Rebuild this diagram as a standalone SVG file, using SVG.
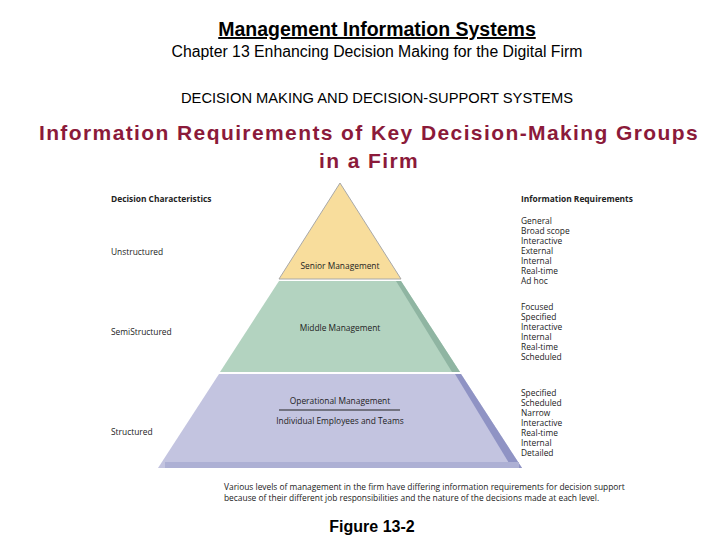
<svg xmlns="http://www.w3.org/2000/svg" width="720" height="540" viewBox="0 0 720 540">
<style>
.h{font-family:"Liberation Sans",Arial,sans-serif;fill:#000}
.s{font-family:"Open Sans","DejaVu Sans",sans-serif;font-size:8.4px;fill:#222}
.b{font-weight:bold}
.t{font-family:"Liberation Sans",Arial,sans-serif;font-size:21px;font-weight:bold;fill:#8b1a3a;letter-spacing:1.4px}
</style>
<rect width="720" height="540" fill="#fff"/>
<text class="h b" x="377" y="36" font-size="19.5" text-anchor="middle" text-decoration="underline">Management Information Systems</text>
<text class="h" x="377" y="57" font-size="15.8" text-anchor="middle">Chapter 13 Enhancing Decision Making for the Digital Firm</text>
<text class="h" x="377" y="103" font-size="14.7" text-anchor="middle">DECISION MAKING AND DECISION-SUPPORT SYSTEMS</text>
<text class="t" x="369" y="140" text-anchor="middle">Information Requirements of Key Decision-Making Groups</text>
<text class="t" x="369" y="168" text-anchor="middle">in a Firm</text>
<g id="senior">
<polygon points="340,183 279,279 401,279" fill="#f8dd9c" stroke="#a8a8a8" stroke-width="1"/>
<text class="s" x="340" y="269" text-anchor="middle">Senior Management</text>
</g>
<g id="middle">
<polygon points="279,281 401,281 460,372 220,372" fill="#b3d3c0"/>
<polygon points="396,281 401,281 460,372 452,372" fill="#8fb5a2"/>
<text class="s" x="340" y="331" text-anchor="middle">Middle Management</text>
</g>
<g id="operational">
<polygon points="219,374 461,374 522,468 158,468" fill="#c3c4e0"/>
<polygon points="455,374 461,374 522,468 512,468" fill="#8f93c4"/>
<rect x="165" y="462" width="354" height="6" fill="#adb0d4"/>
<text class="s" x="340" y="404" text-anchor="middle">Operational Management</text>
<line x1="279" y1="410" x2="400" y2="410" stroke="#222" stroke-width="1"/>
<text class="s" x="340" y="424" text-anchor="middle">Individual Employees and Teams</text>
</g>
<g id="left">
<text class="s b" x="111" y="202">Decision Characteristics</text>
<text class="s" x="111" y="255">Unstructured</text>
<text class="s" x="111" y="335">SemiStructured</text>
<text class="s" x="111" y="435">Structured</text>
</g>
<g id="right">
<text class="s b" x="521" y="202">Information Requirements</text>
<text class="s" x="521" y="224">General</text>
<text class="s" x="521" y="234">Broad scope</text>
<text class="s" x="521" y="244">Interactive</text>
<text class="s" x="521" y="254">External</text>
<text class="s" x="521" y="264">Internal</text>
<text class="s" x="521" y="274">Real-time</text>
<text class="s" x="521" y="284">Ad hoc</text>
<text class="s" x="521" y="310">Focused</text>
<text class="s" x="521" y="320">Specified</text>
<text class="s" x="521" y="330">Interactive</text>
<text class="s" x="521" y="340">Internal</text>
<text class="s" x="521" y="350">Real-time</text>
<text class="s" x="521" y="360">Scheduled</text>
<text class="s" x="521" y="396">Specified</text>
<text class="s" x="521" y="405.5">Scheduled</text>
<text class="s" x="521" y="415.5">Narrow</text>
<text class="s" x="521" y="425.5">Interactive</text>
<text class="s" x="521" y="435.5">Real-time</text>
<text class="s" x="521" y="445.5">Internal</text>
<text class="s" x="521" y="455.5">Detailed</text>
</g>
<text class="s" x="224" y="490" font-size="8.2">Various levels of management in the firm have differing information requirements for decision support</text>
<text class="s" x="224" y="501" font-size="8.2">because of their different job responsibilities and the nature of the decisions made at each level.</text>
<text class="h b" x="372" y="532" font-size="16" text-anchor="middle">Figure 13-2</text>
</svg>
